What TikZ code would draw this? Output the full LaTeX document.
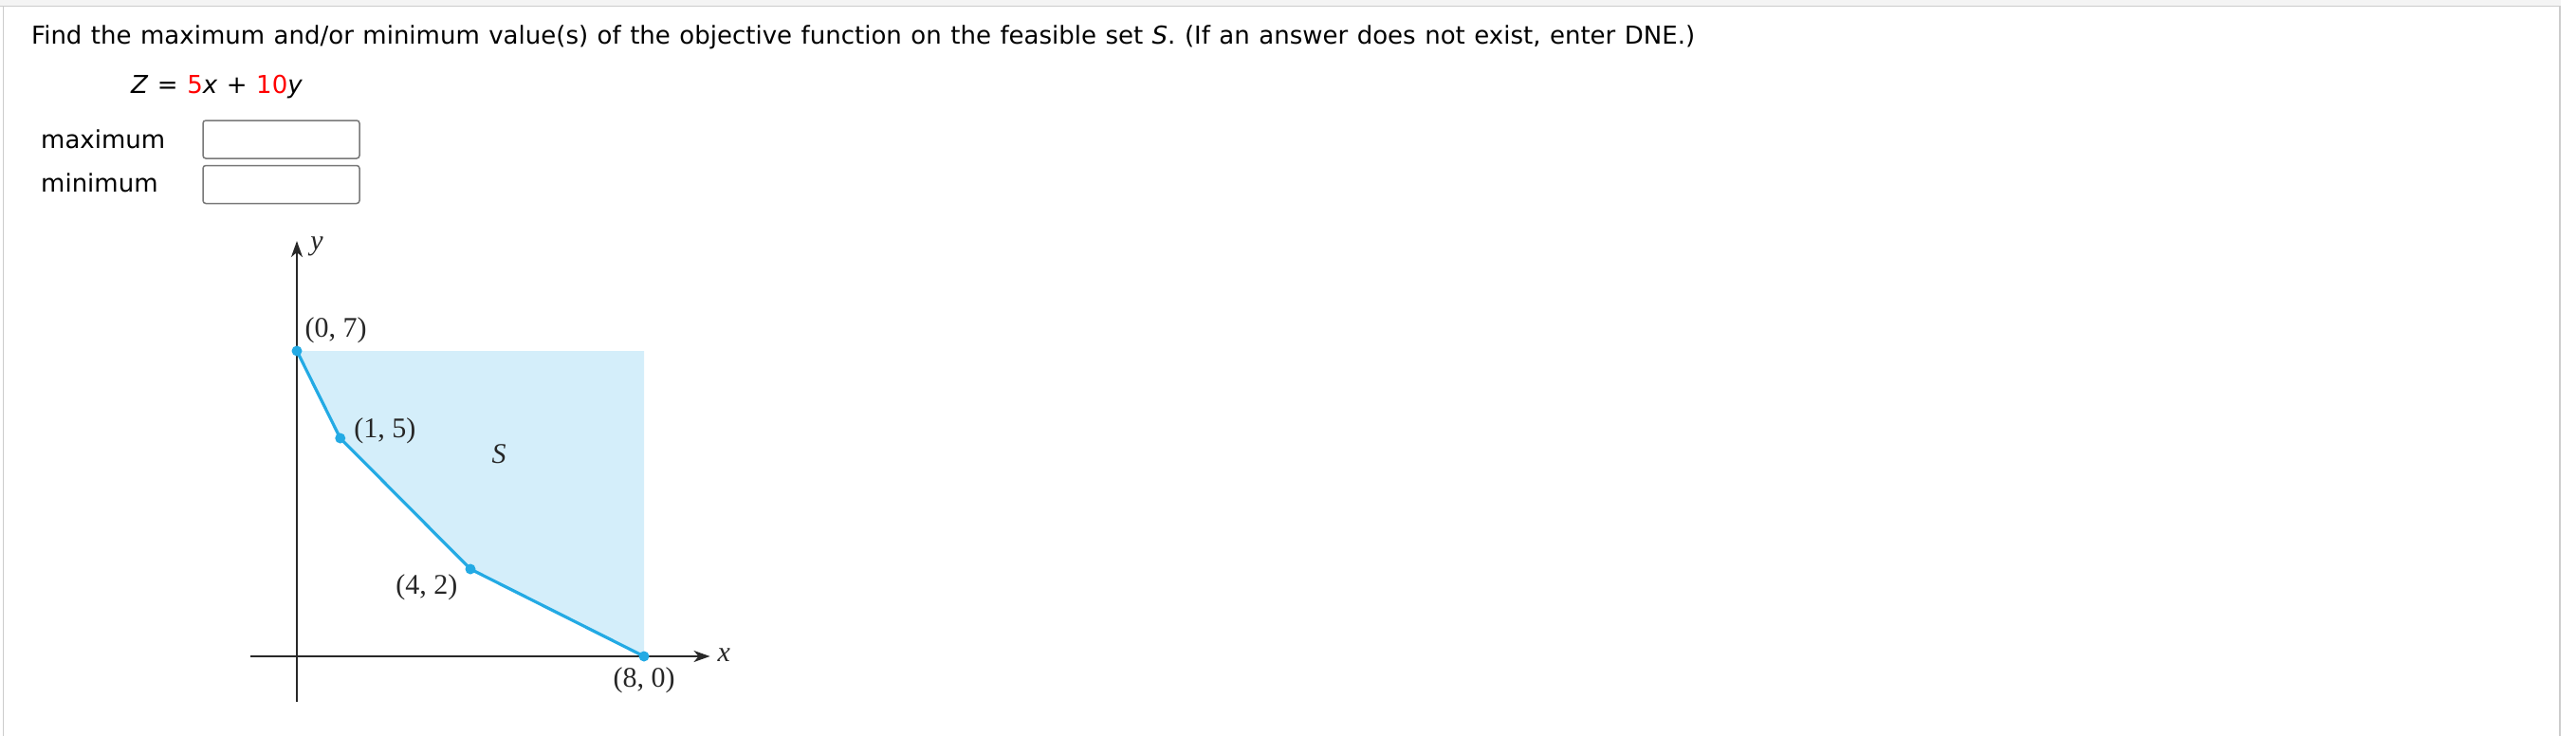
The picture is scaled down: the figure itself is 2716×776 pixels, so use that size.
\documentclass[tikz,border=0pt]{standalone}
\usepackage{fontspec}
\setmainfont{DejaVu Sans}[WordSpace=1.15]
\newfontfamily\figfont{Liberation Serif}
\usetikzlibrary{arrows.meta, positioning}
\definecolor{frameline}{RGB}{204,204,204}
\definecolor{framebar}{RGB}{244,244,244}
\definecolor{boxline}{RGB}{120,120,120}
\definecolor{coef}{RGB}{255,0,0}
\definecolor{feasible}{RGB}{212,238,250}
\definecolor{boundary}{RGB}{35,170,228}
\definecolor{axisline}{RGB}{40,40,40}

\begin{document}
\begin{tikzpicture}[x=1pt, y=-1pt]
\tikzstyle{prompt} = [anchor=base west, inner sep=0pt, font=\fontsize{26}{31}\selectfont]
\tikzstyle{ansbox} = [draw=boxline, line width=1.5pt, rounded corners=3pt,
    minimum width=165pt, minimum height=40pt, inner sep=0pt]
\tikzstyle{axis} = [draw=axisline, line width=2pt, -{Stealth[length=17pt, width=12pt, inset=5pt]}]
\tikzstyle{edge} = [draw=boundary, line width=3.2pt, line join=round]
\tikzstyle{vertex} = [circle, fill=boundary, inner sep=0pt, minimum size=11pt]
\tikzstyle{coordlabel} = [inner sep=0pt, text=black!85, font=\figfont\fontsize{30}{34}\selectfont]
    \useasboundingbox (0,0) rectangle (2716,776);

    % frame
    \fill [framebar] (0,0) rectangle (2700,6);
    \draw [frameline, line width=1.5pt] (0,6.5) -- (2700,6.5);
    \draw [frameline, line width=1.5pt] (3.3,7) -- (3.3,776);
    \draw [frameline, line width=2.5pt] (2699,7) -- (2699,776);

    % Place nodes
    \node [prompt] (question) at (33,47) {Find the maximum and/or minimum value(s) of the objective function on the feasible set \textit{S}. (If an answer does not exist, enter DNE.)};
    \node [prompt] (objective) at (138,98) {\textit{Z} = \textcolor{coef}{5}\textit{x} + \textcolor{coef}{10}\textit{y}};
    \node [prompt] (maxlabel) at (43,156) {maximum};
    \node [prompt] (minlabel) at (43,202) {minimum};
    \node [ansbox] (maxbox) at (296.5,147) {};
    \node [ansbox, below=6pt of maxbox] (minbox) {};

    % graph of S
    \begin{scope}[shift={(313,692)}, x=45.75pt, y=46pt]
    \fill [feasible] (0,7) -- (1,5) -- (4,2) -- (8,0) -- (8,7) -- cycle;
    \coordinate (xstart) at (-1.07,0);
    \coordinate (xend) at (9.52,0);
    \coordinate (ystart) at (0,-1.04);
    \coordinate (yend) at (0,9.52);
    \coordinate (p07) at (0,7);
    \coordinate (p15) at (1,5);
    \coordinate (p42) at (4,2);
    \coordinate (p80) at (8,0);

    %paths
    \path [axis] (xstart) -- (xend);
    \path [axis] (ystart) -- (yend);
    \path [edge] (p07) -- (p15) -- (p42) -- (p80);

    \node [vertex] (v07) at (p07) {};
    \node [vertex] (v15) at (p15) {};
    \node [vertex] (v42) at (p42) {};
    \node [vertex] (v80) at (p80) {};

    \node [coordlabel] (l07) at (0.90,7.48) {(0, 7)};
    \node [coordlabel] (l15) at (2.03,5.17) {(1, 5)};
    \node [coordlabel] (l42) at (2.99,1.59) {(4, 2)};
    \node [coordlabel] (l80) at (8.0,-0.54) {(8, 0)};
    \node [coordlabel] (setname) at (4.66,4.63) {\textit{S}};
    \node [coordlabel] (xname) at (9.84,0.04) {\textit{x}};
    \node [coordlabel] (yname) at (0.46,9.39) {\textit{y}};
    \end{scope}

\end{tikzpicture}
\end{document}
